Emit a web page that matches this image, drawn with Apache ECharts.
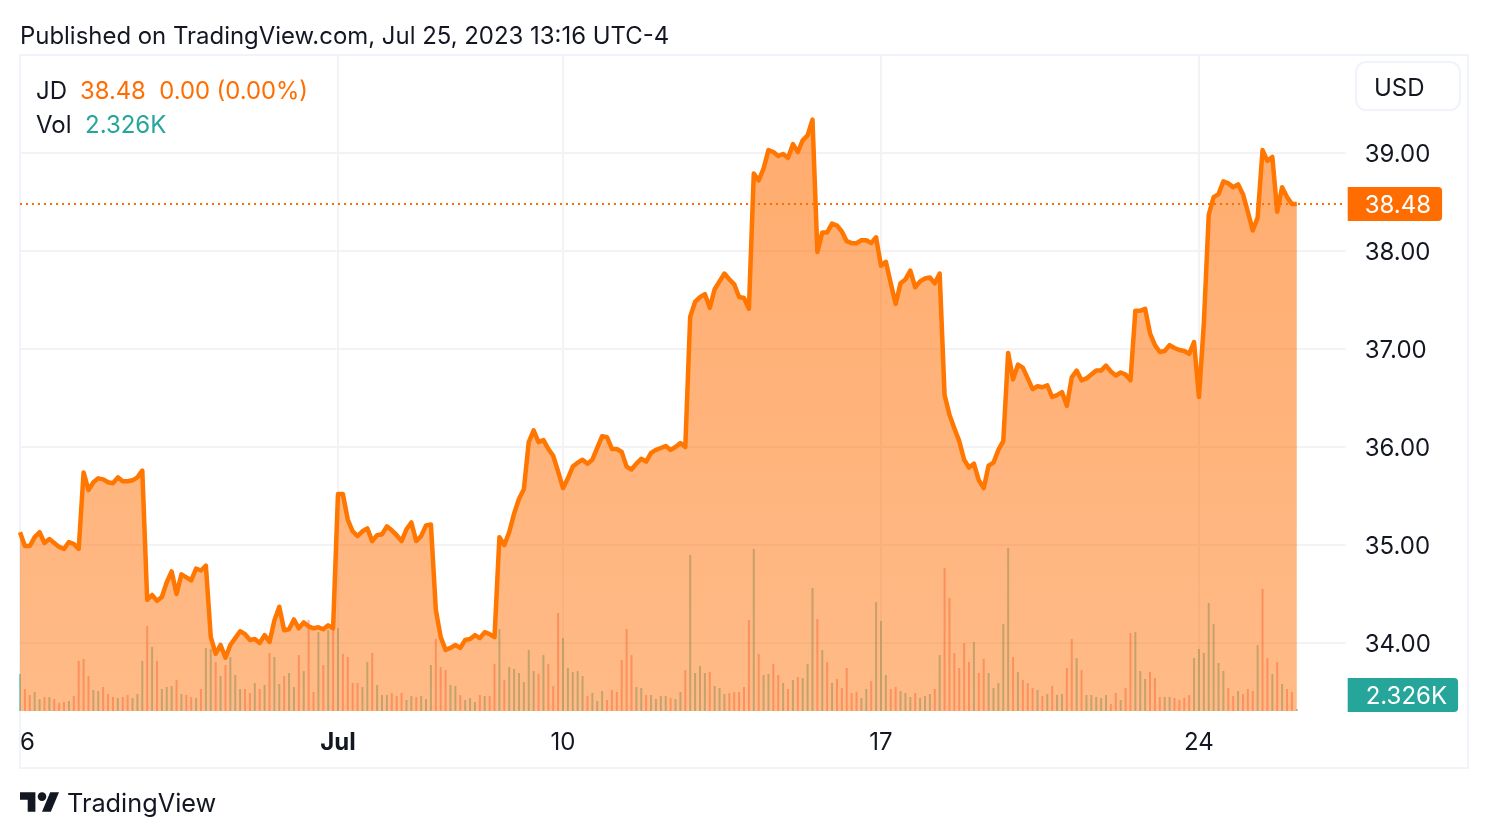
<!DOCTYPE html>
<html>
<head>
<meta charset="utf-8">
<title>JD</title>
<script src="https://cdn.jsdelivr.net/npm/echarts@6/dist/echarts.min.js"></script>
<style>
    html, body { margin: 0; padding: 0; background: #fff; }
    #chart { width: 1488px; height: 838px; }
</style>
</head>
<body>
<div id="chart"></div>
<script>
// Close of each 30 minute bar, 26 Jun to 25 Jul 2023
const prices = [
    35.13,34.99,34.99,35.08,35.13,35.02,35.06,35.02,34.98,34.96,
    35.03,35.01,34.96,35.74,35.56,35.64,35.68,35.67,35.64,35.63,
    35.69,35.65,35.65,35.66,35.69,35.76,34.44,34.49,34.43,34.47,
    34.62,34.73,34.50,34.70,34.67,34.64,34.76,34.74,34.79,34.06,
    33.89,33.98,33.85,33.98,34.05,34.12,34.09,34.03,34.04,34.00,
    34.08,34.01,34.23,34.37,34.13,34.14,34.24,34.15,34.21,34.17,
    34.15,34.16,34.14,34.18,34.15,35.52,35.52,35.26,35.14,35.09,
    35.14,35.17,35.04,35.10,35.11,35.19,35.15,35.10,35.04,35.16,
    35.23,35.04,35.09,35.20,35.21,34.34,34.06,33.93,33.95,33.98,
    33.95,34.03,34.04,34.08,34.05,34.11,34.09,34.06,35.08,35.00,
    35.13,35.32,35.47,35.57,36.05,36.17,36.05,36.07,35.98,35.91,
    35.75,35.58,35.68,35.80,35.84,35.87,35.83,35.87,35.99,36.11,
    36.10,35.98,35.98,35.95,35.80,35.77,35.83,35.88,35.85,35.94,
    35.97,35.99,36.01,35.97,36.00,36.04,36.00,37.33,37.48,37.53,
    37.56,37.42,37.61,37.69,37.77,37.71,37.66,37.53,37.52,37.41,
    38.79,38.72,38.84,39.03,39.01,38.97,38.99,38.95,39.09,39.01,
    39.13,39.18,39.34,37.99,38.19,38.19,38.28,38.26,38.20,38.10,
    38.08,38.08,38.11,38.11,38.08,38.14,37.85,37.89,37.67,37.46,
    37.67,37.71,37.80,37.63,37.69,37.72,37.73,37.67,37.77,36.53,
    36.33,36.19,36.06,35.87,35.79,35.83,35.66,35.58,35.81,35.84,
    35.97,36.06,36.96,36.69,36.84,36.81,36.70,36.59,36.62,36.61,
    36.63,36.51,36.53,36.56,36.42,36.71,36.78,36.68,36.70,36.74,
    36.78,36.78,36.83,36.77,36.73,36.76,36.74,36.68,37.39,37.39,
    37.41,37.16,37.04,36.97,36.98,37.04,37.01,36.99,36.98,36.95,
    37.07,36.51,37.26,38.37,38.55,38.58,38.71,38.69,38.65,38.68,
    38.58,38.40,38.21,38.34,39.03,38.92,38.96,38.40,38.65,38.55,
    38.48,38.48
];

// Volume of each bar, in thousands
const volumes = [
    44.4,26.4,19.2,22.8,14.4,16.8,16.8,14.4,9.6,10.8,
    12,18,60,62.4,42,25.2,24,28.8,20.4,16.8,
    15.6,16.8,19.2,15.6,20.4,60,102,76.8,60,26.4,
    28.8,30,37.2,20.4,19.2,16.8,15.6,26.4,75.6,74.4,
    58.8,42,55.2,64.8,43.2,26.4,26.4,21.6,33.6,26.4,
    31.2,69.6,64.8,32.4,42,45.6,28.8,67.2,48,109.2,
    22.8,94.8,55.2,97.2,100.8,99.6,68.4,64.8,33.6,33.6,
    28.8,58.8,69.6,31.2,19.2,19.2,21.6,18,21.6,13.2,
    18,16.8,18,14.4,55.2,86.4,52.8,49.2,31.2,30,
    19.2,13.2,15.6,10.8,19.2,18,18,56.4,98.4,37.2,
    52.8,50.4,45.6,34.8,73.2,48,44.4,67.2,56.4,30,
    117.6,87.6,51.6,46.8,48,42,18,21.6,12,24,
    13.2,25.2,22.8,61.2,98.4,67.2,28.8,27.6,19.2,19.2,
    14.4,18,18,15.6,14.4,22.8,49.2,187.2,45.6,54,
    45.6,46.8,30,27.6,20.4,21.6,22.8,22.8,28.8,109.2,
    194.4,68.4,43.2,44.4,56.4,43.2,33.6,26.4,37.2,40.8,
    39.6,56.4,147.6,110.4,73.2,58.8,33.6,38.4,27.6,51.6,
    21.6,22.8,15.6,26.4,36,130.8,108,43.2,26.4,28.8,
    24,21.6,16.8,21.6,15.6,18,20.4,26.4,67.2,171.6,
    135.6,69.6,51.6,81.6,58.8,82.8,45.6,62.4,45.6,27.6,
    33.6,104.4,195.6,64.8,46.8,37.2,33.6,27.6,25.2,18,
    20.4,30,19.2,20.4,51.6,86.4,63.6,49.2,19.2,19.2,
    16.8,15.6,19.2,8.4,21.6,13.2,27.6,93.6,94.8,48,
    38.4,46.8,39.6,16.8,16.8,16.8,15.6,13.2,15.6,19.2,
    63.6,74.4,69.6,129.6,104.4,57.6,48,27.6,18,24,
    20.4,26.4,24,79.2,146.4,63.6,44.4,58.8,32.4,26.4,
    22.8,2.326
];

// 1 = teal volume bar, 0 = red volume bar
const volumeUp = [
    1,0,0,1,1,0,1,0,0,0, 1,0,0,0,0,1,1,0,0,0, 1,0,0,1,1,1,0,1,0,1,
    1,1,0,1,0,0,1,0,1,1, 0,1,0,1,1,1,0,0,1,0, 1,0,1,1,0,1,1,0,1,0,
    0,1,0,1,0,1,0,0,0,0, 1,1,0,1,1,1,0,0,0,1, 1,0,1,1,1,0,0,0,1,1,
    0,1,1,1,0,1,0,0,1,0, 1,1,1,1,1,1,0,1,0,0, 0,1,1,1,1,1,0,1,1,1,
    0,0,0,0,0,0,1,1,0,1, 1,1,1,0,1,1,0,1,1,1, 1,0,1,1,1,0,0,0,0,0,
    1,0,1,1,0,0,1,0,1,0, 1,1,1,0,1,0,1,0,0,0, 0,0,1,1,0,1,1,1,0,0,
    1,1,1,0,1,1,1,0,1,0, 0,0,0,0,0,1,0,0,1,1, 1,1,1,0,1,0,0,0,1,0,
    1,0,1,1,0,0,1,0,1,1, 1,1,1,0,0,1,0,0,1,1, 1,0,0,0,1,1,0,0,0,0,
    1,1,1,1,1,1,1,0,0,1, 0,0,0,1,0,0,1,0,1,0, 0,1
];

const priceTicks = [34, 35, 36, 37, 38, 39];
const timeTickIndex = [0, 65, 111, 176, 241];
const timeTickLabels = ['6', '{b|Jul}', '10', '17', '24'];
const EMPTY_SLOTS = 10;

const lastPrice = 38.48;
const lastVolume = 2.326;

const FONT = 'Inter';
const ORANGE = '#FF6D00';
const TEAL = '#26A69A';
const INK = '#131722';
const GRID = '#F3F3F5';
const FRAME = '#F0F3FA';

// Bar slots, the last ones stay empty to leave the gap before the scale
const slots = [];
for (let i = 0; i < prices.length + EMPTY_SLOTS; i++) {
    slots.push(i);
}

function isTimeTick(index) {
    return timeTickIndex.indexOf(index) !== -1;
}

// Rich token, padding on top pushes the digits 2px below the tick
function nudged(color) {
    return { t: { fontFamily: FONT, fontSize: 24, color: color, padding: [4, 0, 0, 0] } };
}

const chart = echarts.init(document.getElementById('chart'), null, { renderer: 'canvas' });

chart.setOption({
    animation: false,
    backgroundColor: '#fff',
    textStyle: { fontFamily: FONT },
    grid: { left: 20, right: 142.3, top: 55, bottom: 127, containLabel: false },
    xAxis: {
        type: 'category',
        data: slots,
        boundaryGap: false,
        axisLine: { show: false },
        axisTick: { show: false },
        axisLabel: {
            interval: (index) => isTimeTick(index),
            formatter: (value, index) => timeTickLabels[timeTickIndex.indexOf(index)],
            alignMinLabel: 'left',
            margin: 20,
            fontFamily: FONT,
            fontSize: 24,
            color: INK,
            rich: { b: { fontFamily: FONT, fontSize: 24, fontWeight: 'bold', color: INK } }
        },
        splitLine: {
            show: true,
            interval: (index) => isTimeTick(index) && index > 0,
            lineStyle: { color: GRID, width: 2 }
        }
    },
    yAxis: [
        {
            type: 'value',
            position: 'right',
            min: 33.306,
            max: 40,
            axisLine: { show: false },
            axisTick: { show: false, customValues: priceTicks },
            axisLabel: {
                customValues: priceTicks,
                formatter: (value) => '{t|' + value.toFixed(2) + '}',
                margin: 19,
                rich: nudged(INK)
            },
            splitLine: { show: true, lineStyle: { color: GRID, width: 2 } }
        },
        {
            type: 'value',
            min: 0,
            max: 787,
            show: false,
            splitLine: { show: false }
        }
    ],
    series: [
        {
            name: 'Vol',
            type: 'bar',
            xAxisIndex: 0,
            yAxisIndex: 1,
            barWidth: 2,
            z: 1,
            data: volumes.map((value, i) => ({
                value: value,
                itemStyle: { color: volumeUp[i] ? 'rgba(38,166,154,0.5)' : 'rgba(239,83,80,0.45)' }
            })),
            markLine: {
                silent: true,
                symbol: 'none',
                lineStyle: { color: 'transparent', width: 0 },
                label: {
                    position: 'end',
                    distance: 2,
                    offset: [0, -14],
                    formatter: () => '{t|' + lastVolume.toFixed(3) + 'K}',
                    rich: nudged('#fff'),
                    backgroundColor: TEAL,
                    padding: [3, 11, 3, 18],
                    borderRadius: [0, 4, 4, 0]
                },
                data: [{ yAxis: lastVolume }]
            }
        },
        {
            name: 'JD',
            type: 'line',
            xAxisIndex: 0,
            yAxisIndex: 0,
            data: prices,
            z: 2,
            symbol: 'none',
            smooth: false,
            lineStyle: { color: '#FF7600', width: 4.5, join: 'round' },
            areaStyle: {
                origin: 'start',
                opacity: 1,
                color: new echarts.graphic.LinearGradient(0, 0, 0, 1, [
                    { offset: 0, color: 'rgba(255,109,0,0.57)' },
                    { offset: 1, color: 'rgba(255,109,0,0.47)' }
                ])
            },
            markLine: {
                silent: true,
                symbol: 'none',
                lineStyle: { color: ORANGE, width: 2, type: [2, 4] },
                label: {
                    position: 'end',
                    distance: 2,
                    formatter: () => '{t|' + lastPrice.toFixed(2) + '}',
                    rich: nudged('#fff'),
                    backgroundColor: ORANGE,
                    padding: [3, 11, 3, 17],
                    borderRadius: [0, 4, 4, 0]
                },
                data: [{ yAxis: lastPrice }]
            }
        }
    ],
    graphic: [
        // Frame
        { type: 'rect', z: 0, shape: { x: 20, y: 55, width: 1448, height: 713 }, style: { fill: 'none', stroke: FRAME, lineWidth: 2 } },
        // Currency button
        { type: 'rect', z: 5, shape: { x: 1356, y: 62, width: 104, height: 48, r: 10 }, style: { fill: '#fff', stroke: FRAME, lineWidth: 2 } },
        { type: 'text', z: 6, style: { x: 1374, y: 89, text: 'USD', font: '24px ' + FONT, fill: INK, textVerticalAlign: 'middle' } },
        // Header
        { type: 'text', z: 6, style: { x: 20, y: 37, text: 'Published on TradingView.com, Jul 25, 2023 13:16 UTC-4', font: '23.93px ' + FONT, fill: INK, textVerticalAlign: 'middle' } },
        // Legend
        { type: 'text', z: 6, style: { x: 36, y: 92, text: 'JD', font: '24px ' + FONT, fill: INK, textVerticalAlign: 'middle' } },
        { type: 'text', z: 6, style: { x: 80, y: 92, text: lastPrice.toFixed(2) + '  0.00 (0.00%)', font: '23.8px ' + FONT, fill: ORANGE, textVerticalAlign: 'middle' } },
        { type: 'text', z: 6, style: { x: 36, y: 126, text: 'Vol', font: '24px ' + FONT, fill: INK, textVerticalAlign: 'middle' } },
        { type: 'text', z: 6, style: { x: 85, y: 126, text: lastVolume.toFixed(3) + 'K', font: '24px ' + FONT, fill: TEAL, textVerticalAlign: 'middle' } },
        // Logo
        { type: 'polygon', z: 6, shape: { points: [[35.4, 811.7], [27.7, 811.7], [27.7, 799.8], [20, 799.8], [20, 792.3], [35.4, 792.3]] }, style: { fill: INK } },
        { type: 'polygon', z: 6, shape: { points: [[50.8, 811.7], [42, 811.7], [50.2, 792.3], [59, 792.3]] }, style: { fill: INK } },
        { type: 'circle', z: 6, shape: { cx: 42, cy: 796.6, r: 4.3 }, style: { fill: INK } },
        { type: 'text', z: 6, style: { x: 67, y: 804, text: 'TradingView', font: '25.3px ' + FONT, fill: INK, textVerticalAlign: 'middle' } }
    ]
});
</script>
</body>
</html>
